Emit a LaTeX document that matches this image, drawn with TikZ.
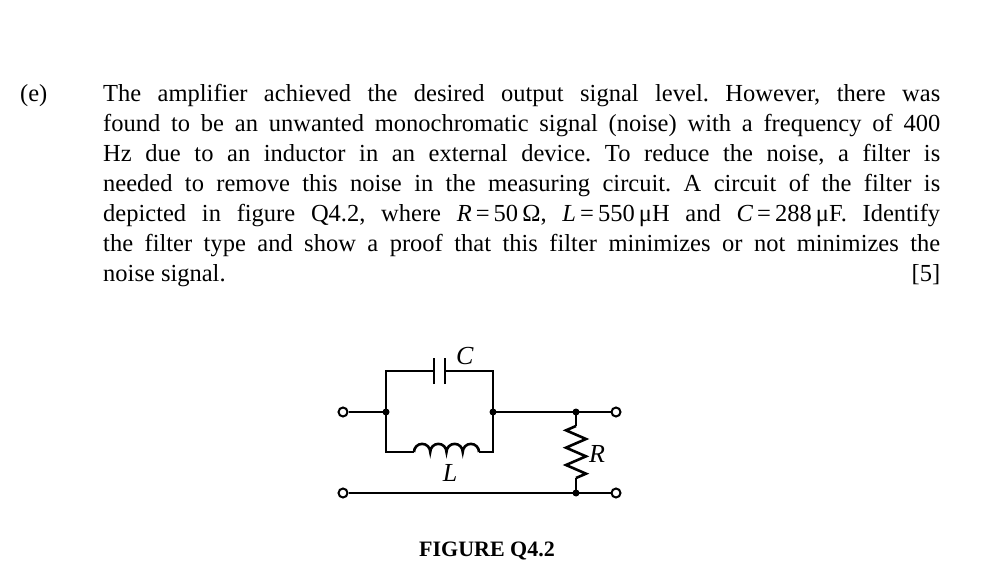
\documentclass[tikz,border=0pt]{standalone}
\usepackage{fontspec}
\setmainfont{Liberation Serif}
\begin{document}
\begin{tikzpicture}[x=1pt,y=-1pt,
	wire/.style={line width=2.6pt},
	term/.style={circle,draw,line width=2pt,fill=white,inner sep=0pt,minimum size=9pt},
	lbl/.style={font=\fontsize{26}{26}\selectfont\itshape,inner sep=1pt}]
	\useasboundingbox (0,0) rectangle (990,585);
	% question text
	\node[anchor=north west,inner sep=0pt] (tag) at (20,84) {\fontsize{24.5}{30}\selectfont (e)};
	\node[anchor=north west,inner sep=0pt,text width=837pt,align=justify] (body) at (103,84)
	{\fontsize{24.5}{30}\selectfont\frenchspacing The amplifier achieved the desired output signal level. However, there was\linebreak
	found to be an unwanted monochromatic signal (noise) with a frequency of 400\linebreak
	Hz due to an inductor in an external device. To reduce the noise, a filter is\linebreak
	needed to remove this noise in the measuring circuit. A circuit of the filter is\linebreak
	depicted in figure Q4.2, where \textit{R}\,=\,50\,Ω, \textit{L}\,=\,550\,μH and \textit{C}\,=\,288\,μF. Identify\linebreak
	the filter type and show a proof that this filter minimizes or not minimizes the\linebreak
	noise signal.\hfill[5]\par};
	% circuit nodes
	\coordinate (jl) at (386,412);
	\coordinate (jr) at (493,412);
	\coordinate (jR) at (576,412);
	\coordinate (bR) at (576,493);
	\coordinate (tl) at (386,371);
	\coordinate (tr) at (493,371);
	\coordinate (ll) at (386,452);
	\coordinate (lr) at (493,452);
	\coordinate (c1) at (434,371);
	\coordinate (c2) at (445,371);
	\coordinate (i1) at (414,452);
	\coordinate (i2) at (479,452);
	\coordinate (r1) at (576,426);
	\coordinate (r2) at (576,478);
	\node[term] (inA) at (343,412) {};
	\node[term] (inB) at (343,493) {};
	\node[term] (outA) at (616,412) {};
	\node[term] (outB) at (616,493) {};
	% wires
	\draw[wire] (inA) -- (jl) -- (tl) -- (c1);
	\draw[wire] (c2) -- (tr) -- (jr) -- (lr) -- (i2);
	\draw[wire] (jl) -- (ll) -- (i1);
	\draw[wire] (jr) -- (jR) -- (outA);
	\draw[wire] (jR) -- (r1);
	\draw[wire] (r2) -- (bR);
	\draw[wire] (inB) -- (bR) -- (outB);
	% capacitor
	\draw[wire] ([yshift=-13]c1) -- ([yshift=13]c1);
	\draw[wire] ([yshift=-13]c2) -- ([yshift=13]c2);
	% inductor
	\draw[wire] (i1) foreach \k in {1,...,4} {arc[start angle=180,end angle=360,radius=8.125]};
	% resistor
	\draw[wire,line join=miter] (r1) -- ++(-10,4.33) -- ++(20,8.67) -- ++(-20,8.67) -- ++(20,8.67) -- ++(-20,8.67) -- ++(20,8.67) -- (r2);
	\foreach \d in {jl,jr,jR,bR} \fill (\d) circle (3.5pt);
	\node[lbl,anchor=west] (lC) at (455,356) {C};
	\node[lbl] (lL) at (450,473) {L};
	\node[lbl,anchor=west] (lR) at (588,454) {R};
	\node[font=\fontsize{22}{22}\selectfont\bfseries] (cap) at (487,551) {FIGURE Q4.2};
\end{tikzpicture}
\end{document}
